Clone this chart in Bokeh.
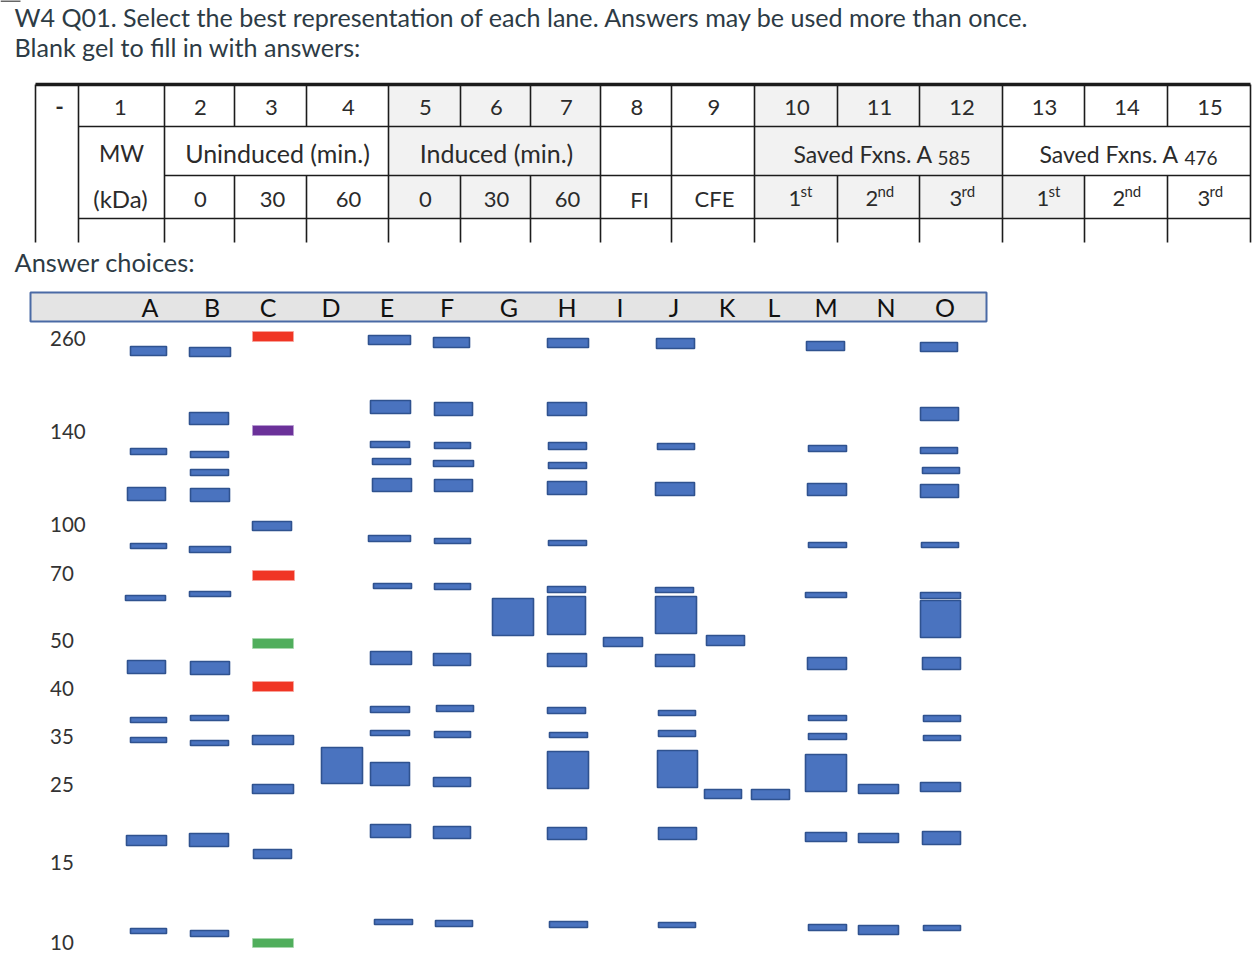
from bokeh.core.properties import value
from bokeh.embed import file_html
from bokeh.resources import INLINE
from bokeh.plotting import figure
from bokeh.models import Range1d

# ---------- data ----------
title_lines = ["W4 Q01. Select the best representation of each lane. Answers may be used more than once.",
               "Blank gel to fill in with answers:"]
answer_heading = "Answer choices:"
lane_numbers = ["1", "2", "3", "4", "5", "6", "7", "8", "9", "10", "11", "12", "13", "14", "15"]
column_edges = [78, 164, 234, 306, 388, 460, 530, 600, 671, 754, 837, 919, 1002, 1084, 1167, 1250]
time_labels = ["0", "30", "60", "0", "30", "60"]
fraction_labels = ["FI", "CFE"]
ordinal_main = ["1", "2", "3", "1", "2", "3"]
ordinal_sup = ["st", "nd", "rd", "st", "nd", "rd"]

ladder_labels = ["260", "140", "100", "70", "50", "40", "35", "25", "15", "10"]
ladder_pos = [338, 431, 524, 573, 640, 688, 736, 784, 862, 942]
answer_letters = list("ABCDEFGHIJKLMNO")
answer_letter_pos = [150, 212, 268, 331, 387, 447, 509, 567, 620, 674, 727, 774, 826, 886, 945]

# each band: left, right, top, bottom
lane_A = [(130,166,346,355),(130,166,448,454),(127,165,487,500),(130,166,543,548),(125,165,595,600),
          (127,165,660,673),(130,166,717,722),(130,166,737,742),(126,166,835,845),(130,166,928,933)]
lane_B = [(189,230,347,356),(189,228,412,424),(190,228,451,457),(190,228,469,475),(190,229,488,501),
          (189,230,546,552),(189,230,591,596),(190,229,661,674),(190,228,715,720),(190,228,740,745),
          (189,228,833,846),(190,228,930,936)]
lane_C_blue = [(252,291,521,530),(252,293,735,744),(252,293,784,793),(253,291,849,858)]
lane_C_red = [(252,293,331,341),(252,294,570,580),(252,293,681,691)]
lane_C_purple = [(252,293,425,435)]
lane_C_green = [(252,293,638,648),(252,293,938,947)]
lane_D = [(321,362,747,783)]
lane_E = [(368,410,335,344),(370,410,400,413),(370,409,441,447),(372,410,458,464),(372,411,478,491),
          (368,410,535,541),(373,411,583,588),(370,411,651,664),(370,409,706,712),(370,409,730,735),
          (370,409,762,785),(370,410,824,837),(374,412,919,924)]
lane_F = [(433,469,337,347),(434,472,402,415),(434,470,442,448),(433,473,460,466),(434,472,479,491),
          (434,470,538,543),(434,470,583,589),(433,470,653,665),(436,473,705,711),(434,470,731,737),
          (433,470,777,786),(433,470,826,838),(435,472,920,926)]
lane_G = [(492,533,598,635)]
lane_H = [(547,588,338,347),(547,586,402,415),(548,586,442,449),(548,586,462,468),(547,586,481,494),
          (548,586,540,545),(547,585,586,592),(547,585,596,634),(547,586,653,666),(547,585,707,713),
          (549,587,732,737),(547,588,751,788),(547,586,827,839),(549,587,921,927)]
lane_I = [(603,642,637,646)]
lane_J = [(656,694,338,348),(657,694,443,449),(655,694,482,495),(655,693,587,592),(655,696,596,633),
          (655,694,654,666),(658,695,710,715),(658,695,730,736),(657,697,750,787),(658,696,827,839),
          (658,695,922,927)]
lane_K = [(706,744,635,645),(704,741,789,798)]
lane_L = [(751,789,789,799)]
lane_M = [(806,844,341,350),(808,846,445,451),(807,846,483,495),(808,846,542,547),(805,846,592,597),
          (807,846,657,669),(808,846,715,720),(808,846,733,739),(805,846,754,791),(805,846,832,841),
          (808,846,924,930)]
lane_N = [(858,898,784,793),(858,898,833,842),(858,898,925,934)]
lane_O = [(920,957,342,351),(920,958,407,420),(920,957,447,453),(922,959,467,473),(920,958,484,497),
          (921,958,542,547),(920,960,592,598),(920,960,600,637),(922,960,657,669),(923,960,715,721),
          (923,960,735,740),(920,960,782,791),(922,960,831,844),(923,960,925,930)]

blue_lanes = [lane_A, lane_B, lane_C_blue, lane_D, lane_E, lane_F, lane_G, lane_H, lane_I, lane_J,
              lane_K, lane_L, lane_M, lane_N, lane_O]

# ---------- drawing ----------
FONT = value("Lato")
p = figure(width=1260, height=974, output_backend="svg", toolbar_location=None,
           x_range=Range1d(0, 1260), y_range=Range1d(974, 0), min_border=0,
           background_fill_color="white", outline_line_color=None)
p.axis.visible = False
p.grid.visible = False


def txt(xs, ys, labels, size, color="#2b2b2b", align="center", style="normal"):
    p.text(x=xs, y=ys, text=labels, text_font=FONT, text_font_size=f"{size}px", text_color=color,
           text_align=align, text_baseline="middle", text_font_style=style)


def hline(x0, x1, y, w=1.6, color="#1c1c1c"):
    p.segment(x0=[x0], x1=[x1], y0=[y], y1=[y], line_color=color, line_width=w)


def vline(x, y0, y1, w=1.6, color="#1c1c1c"):
    p.segment(x0=[x], x1=[x], y0=[y0], y1=[y1], line_color=color, line_width=w)


centres = [(a + b) / 2 + 1 for a, b in zip(column_edges[:-1], column_edges[1:])]
centres[0] = 120

# crop remnant at the picture's top-left corner
hline(0, 20, 0.5, 1.5, "#333333")

# table shading
shade = "#f2f2f2"
y_top, y_r1, y_r2, y_r3, y_end = 84, 126, 175, 218, 242
p.quad(left=[388, 754], right=[600, 1002], top=[y_top, y_top], bottom=[y_r2, y_r2],
       fill_color=shade, line_color=None)
p.quad(left=[388, 754], right=[600, 1084], top=[y_r2, y_r2], bottom=[y_r3, y_r3],
       fill_color=shade, line_color=None)

# table rules
hline(35, 1250, y_top, 3.4)
hline(78, 1250, y_r1)
hline(164, 1250, y_r2)
hline(78, 1250, y_r3)
vline(35, y_top, y_end)
vline(78, y_top, y_end)
for x in [164, 388, 600, 671, 754, 1002, 1250]:
    vline(x, y_top, y_end)
for x in [234, 306, 460, 530, 837, 919, 1084, 1167]:
    vline(x, y_top, y_r1)
    vline(x, y_r2, y_end)

# table text
txt([59], [106], ["-"], 23, style="bold")
txt(centres, [106.5] * 15, lane_numbers, 22)
txt([121], [152], ["MW"], 23)
txt([120], [197.5], ["(kDa)"], 24)
txt([277, 496], [152, 152], ["Uninduced (min.)", "Induced (min.)"], 25)
txt([200, 272, 348, 425, 496, 567], [198.5] * 6, time_labels, 22)
txt([639, 714], [198.5, 198], fraction_labels, 22)

# saved fractions
txt([793, 1039], [153.5, 153.5], ["Saved Fxns. A", "Saved Fxns. A"], 23, align="left")
txt([937, 1184], [157, 157], ["585", "476"], 19, align="left")
ord_x = [788, 865, 949, 1036, 1112, 1197]
txt(ord_x, [198] * 6, ordinal_main, 22, align="left")
txt([x + 12 for x in ord_x], [190.5] * 6, ordinal_sup, 15, align="left")

# title and headings
txt([14, 14], [16, 46], title_lines, 25.12, color="#2d3b45", align="left")
txt([14], [261], [answer_heading], 25.4, color="#2d3b45", align="left")

# answer header
p.quad(left=[30], right=[986], top=[292], bottom=[321], fill_color="#e4e4e4",
       line_color="#4a6aa5", line_width=2)
txt([x - 0.5 for x in answer_letter_pos], [306] * 15, answer_letters, 25, color="#111111")

# ladder
txt([49.5] * len(ladder_labels), [y - 0.5 for y in ladder_pos], ladder_labels, 20.5, color="#333333", align="left")


def draw(bands, fill, line, width):
    p.quad(left=[b[0] for b in bands], right=[b[1] for b in bands],
           top=[b[2] for b in bands], bottom=[b[3] for b in bands],
           fill_color=fill, line_color=line, line_width=width)


for lane in blue_lanes:
    draw(lane, "#4a73bf", "#2f528f", 1.6)
draw(lane_C_red, "#f03524", "#f8a59c", 0.8)
draw(lane_C_purple, "#6b3199", "#b69ad0", 0.8)
draw(lane_C_green, "#50ae5c", "#a8d8ae", 0.8)

open("out.html", "w").write(file_html(p, INLINE))
